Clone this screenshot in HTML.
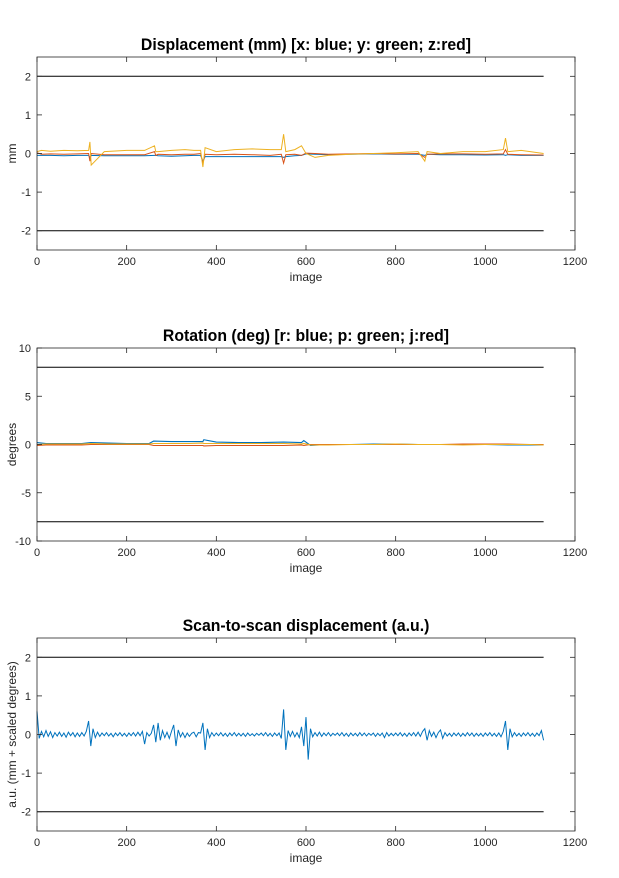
<!DOCTYPE html>
<html><head><meta charset="utf-8"><style>
body{margin:0;background:#fff;font-family:"Liberation Sans",sans-serif}
svg text{font-family:"Liberation Sans",sans-serif}
</style></head><body>
<svg id="fig" width="619" height="873" xmlns="http://www.w3.org/2000/svg"></svg>
<script>
// ---- data ----
const dispImg = [0,10,30,60,90,115,118,121,150,200,240,262,265,270,300,330,350,365,370,375,400,440,480,520,545,550,555,575,590,600,620,650,700,750,800,850,865,870,900,950,1000,1040,1045,1050,1080,1130];
const dispX = [-0.05,-0.05,-0.05,-0.06,-0.05,-0.05,-0.1,-0.05,-0.06,-0.06,-0.06,-0.05,-0.05,-0.06,-0.07,-0.06,-0.05,-0.05,-0.2,-0.08,-0.08,-0.08,-0.08,-0.08,-0.08,-0.1,-0.08,-0.06,-0.05,-0.01,-0.02,-0.03,-0.02,-0.01,-0.02,-0.02,-0.05,-0.02,-0.03,-0.03,-0.04,-0.03,-0.05,-0.03,-0.05,-0.05];
const dispY = [0.02,-0.02,-0.01,-0.02,-0.01,0.0,-0.2,0.0,-0.03,-0.03,-0.03,0.05,-0.05,-0.02,-0.03,-0.02,-0.02,0.0,-0.25,-0.02,-0.03,-0.02,-0.03,-0.05,-0.02,-0.25,-0.03,-0.02,-0.05,0.01,0.0,-0.02,-0.01,0.0,-0.01,0.0,-0.1,-0.02,-0.01,-0.01,-0.02,-0.01,0.1,-0.02,-0.03,-0.04];
const dispZ = [0.05,0.08,0.06,0.08,0.07,0.08,0.3,-0.3,0.05,0.08,0.08,0.2,0.05,0.05,0.08,0.1,0.08,0.08,-0.35,0.15,0.05,0.1,0.12,0.1,0.1,0.5,0.05,0.1,0.2,0.0,-0.1,-0.05,-0.02,0.0,0.02,0.05,-0.2,0.05,0.0,0.05,0.05,0.1,0.4,0.05,0.08,0.0];
const rotImg = [0,20,60,100,120,160,200,250,260,300,340,370,372,400,450,500,550,590,595,610,650,700,750,800,850,900,950,1000,1050,1100,1130];
const rotR = [0.2,0.1,0.1,0.1,0.2,0.15,0.1,0.1,0.35,0.3,0.3,0.3,0.5,0.25,0.2,0.2,0.25,0.2,0.4,-0.1,0.0,0.0,0.05,0.05,0.0,0.0,0.0,0.0,-0.05,-0.05,-0.05];
const rotP = [0.0,0.05,0.05,0.05,0.1,0.05,0.05,0.05,0.1,0.1,0.1,0.15,0.1,0.1,0.1,0.1,0.1,0.05,0.1,-0.05,-0.05,0.0,0.0,0.05,0.0,0.0,-0.05,0.0,0.0,0.0,-0.05];
const rotJ = [-0.1,-0.05,-0.05,-0.05,0.0,0.0,0.0,0.0,-0.1,-0.1,-0.1,-0.1,-0.15,-0.1,-0.1,-0.1,-0.1,-0.05,-0.1,0.0,0.0,0.0,0.0,0.0,0.0,0.0,0.05,0.05,0.05,0.0,0.0];
// scan-to-scan values, one every 5 images starting at image 0
const scanStep = 5;
const scanV = [
0.6,-0.1,0.08,-0.06,0.1,-0.05,0.07,-0.08,0.05,-0.04,
0.06,-0.05,0.04,-0.07,0.06,-0.03,0.05,-0.06,0.04,-0.05,
0.05,-0.04,0.08,0.35,-0.3,0.15,-0.08,0.06,-0.05,0.04,
-0.03,0.05,-0.04,0.03,-0.06,0.04,-0.03,0.05,-0.04,0.03,
-0.05,0.04,-0.03,0.05,-0.04,0.06,-0.03,0.08,-0.25,0.05,
-0.04,0.03,0.25,-0.2,0.3,-0.15,0.1,-0.08,0.06,-0.1,
0.08,0.25,-0.3,0.12,-0.06,0.05,-0.08,0.04,-0.05,0.03,
0.06,-0.06,0.05,0.04,0.3,-0.4,0.15,-0.08,0.05,-0.04,
0.04,-0.03,0.05,-0.04,0.03,-0.05,0.04,-0.03,0.05,-0.04,
0.03,-0.04,0.03,-0.05,0.04,-0.03,0.02,-0.04,0.03,-0.02,
0.04,-0.03,0.05,-0.04,0.03,-0.05,0.04,-0.03,0.04,-0.1,
0.65,-0.4,0.1,-0.05,0.08,-0.06,0.05,-0.08,0.2,-0.3,
0.45,-0.65,0.15,-0.06,0.05,-0.04,0.06,-0.05,0.04,-0.03,
0.05,-0.04,0.03,-0.02,0.04,-0.03,0.05,-0.04,0.03,-0.05,
0.04,-0.03,0.03,-0.04,0.05,-0.03,0.04,-0.04,0.03,-0.02,
0.04,-0.05,0.03,-0.03,0.04,-0.08,0.05,-0.04,0.03,-0.03,
0.04,-0.03,0.05,-0.04,0.03,-0.05,0.04,-0.03,0.05,-0.04,
0.06,-0.05,0.08,0.15,-0.15,0.1,-0.05,0.06,-0.08,0.05,
0.12,-0.1,0.05,-0.04,0.03,-0.05,0.04,-0.03,0.04,-0.05,
0.03,-0.04,0.05,-0.03,0.04,-0.05,0.03,-0.04,0.03,-0.05,
0.04,-0.03,0.05,-0.04,0.03,-0.05,0.04,-0.06,0.08,0.35,
-0.4,0.15,-0.06,0.05,-0.04,0.03,-0.05,0.04,-0.03,0.05,
-0.04,0.03,-0.05,0.04,-0.03,0.1,-0.15];
const xTicks = [0,200,400,600,800,1000,1200];

// ---- render ----
const svg = document.getElementById('fig');
const NS = 'http://www.w3.org/2000/svg';
function mk(tag, attrs, parent){const e=document.createElementNS(NS,tag);for(const k in attrs)e.setAttribute(k,attrs[k]);(parent||svg).appendChild(e);return e;}
const L=37,R=575;
const colors=['#0072BD','#D95319','#EDB120'];
function panel(name, top, bot, ymin, ymax, yTicks, thr, title, ylab, series, imgs, lw){
  const g=mk('g',{});
  
  
  const sx=v=>L+(v-0)/1200*(R-L);
  const sy=v=>bot-(v-ymin)/(ymax-ymin)*(bot-top);
  mk('rect',{x:L,y:top,width:R-L,height:bot-top,fill:'#fff',stroke:'none'},g);
  [thr,-thr].forEach(t=>{const l=mk('line',{x1:sx(0),x2:sx(1130),y1:sy(t),y2:sy(t),stroke:'#000','stroke-width':1},g);
    });
  series.forEach((vals,i)=>{
    let d='';vals.forEach((v,j)=>{d+=(j?'L':'M')+sx(imgs[j]).toFixed(1)+','+sy(v).toFixed(1);});
    const p=mk('path',{d:d,fill:'none',stroke:colors[series.length===1?0:i],'stroke-width':lw},g);
    
  });
  const box=mk('rect',{x:L,y:top,width:R-L,height:bot-top,fill:'none',stroke:'#262626','stroke-width':0.8},g);
  
  xTicks.forEach(t=>{const x=sx(t);
    mk('line',{x1:x,x2:x,y1:bot,y2:bot-5,stroke:'#262626','stroke-width':0.8},g);
    mk('line',{x1:x,x2:x,y1:top,y2:top+5,stroke:'#262626','stroke-width':0.8},g);
    const tx=mk('text',{x:x,y:bot+15,'font-size':11,'text-anchor':'middle',fill:'#262626'},g);tx.textContent=t;
    });
  yTicks.forEach(t=>{const y=sy(t);
    mk('line',{x1:L,x2:L+5,y1:y,y2:y,stroke:'#262626','stroke-width':0.8},g);
    mk('line',{x1:R,x2:R-5,y1:y,y2:y,stroke:'#262626','stroke-width':0.8},g);
    const tx=mk('text',{x:L-6,y:y+4,'font-size':11,'text-anchor':'end',fill:'#262626'},g);tx.textContent=t;
    });
  const ti=mk('text',{x:((L+R)/2)/0.93,y:top-7,'font-size':17,'font-weight':'bold','text-anchor':'middle',fill:'#000',transform:'scale(0.93,1)'},g);
  ti.textContent=title;
  
  const xl=mk('text',{x:(L+R)/2,y:bot+31,'font-size':12,'text-anchor':'middle',fill:'#262626'},g);xl.textContent='image';
  
  const yl=mk('text',{x:0,y:0,'font-size':12,'text-anchor':'middle',fill:'#262626',transform:`translate(${L-21},${(top+bot)/2}) rotate(-90)`},g);yl.textContent=ylab;
  
}
const scanImg = scanV.map((v,i)=>i*scanStep);
panel('displacement-panel',57,250,-2.5,2.5,[-2,-1,0,1,2],2,'Displacement (mm) [x: blue; y: green; z:red]','mm',[dispX,dispY,dispZ],dispImg,1);
panel('rotation-panel',348,541,-10,10,[-10,-5,0,5,10],8,'Rotation (deg) [r: blue; p: green; j:red]','degrees',[rotR,rotJ,rotP],rotImg,1.1);
panel('scan-panel',638,831,-2.5,2.5,[-2,-1,0,1,2],2,'Scan-to-scan displacement (a.u.)','a.u. (mm + scaled degrees)',[scanV],scanImg,1);
</script>
</body></html>
